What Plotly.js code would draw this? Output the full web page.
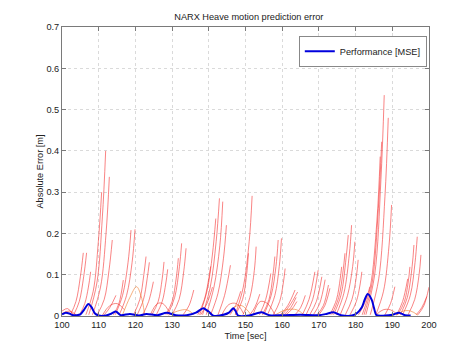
<!DOCTYPE html>
<html>
<head>
<meta charset="utf-8">
<script src="https://cdn.plot.ly/plotly-3.0.1.min.js"></script>
<style>html,body{margin:0;padding:0;background:#fff;}#chart{width:474px;height:355px;}</style>
</head>
<body>
<div id="chart"></div>
<script>
// Performance [MSE] (blue)
const perfT = [100,101,102,103,104,105,106,107.2,108,109,110,112,113.5,114.7,116,118.5,121,123,126,128.5,131,134,136.5,138.5,140,141.2,143,145.5,146.7,147.3,148,151,154.4,156.5,160,165,170,172,173.9,176,179,180.5,181.7,182.5,183.3,184.4,185,185.7,188,190,191.8,193.5,195];
const perfV = [0.004,0.008,0.006,0.002,0.002,0.004,0.015,0.029,0.022,0.006,0.001,0.001,0.006,0.011,0.002,0.005,0.001,0.005,0.002,0.008,0.002,0.002,0.008,0.019,0.01,0.001,0.001,0.008,0.019,0.012,0.001,0.001,0.009,0.002,0.002,0.003,0.002,0.005,0.009,0.002,0.001,0.008,0.021,0.04,0.053,0.039,0.02,0.002,0.001,0.003,0.008,0.002,0.001];

// Diverging prediction errors (red), read per curve
const redT = [
  [100,101.5,103],[100,102,104],
  [102.3,103.8,105,105.8],[103.2,104.7,105.9,106.7],[104.8,106.2,107.2,107.8],
  [106.5,108.5,109.9,110.8],[107.3,109.5,111,111.9],[108.3,110.5,112,112.9],
  [109.6,111.5,112.8,113.7],[111.5,113,114.7],[114,115.5,116.7],
  [114.5,116.5,118,118.8],[115.6,117.6,119.1,119.9],
  [119.5,121.2,122.3,122.9],[120.5,122.2,123.2,123.8],[122,123.6,124.9],
  [124.5,126.2,127.3,127.8],[125.7,127.3,128.3,128.8],
  [128.3,130,131.1,131.7],[128.8,130.7,132,132.6],[130,131.9,133.2,133.8],[133,134.6,135.9],
  [137,138.8,140.5],[137.8,139.5,141],
  [137.5,139.5,141,141.9],[138.3,140.4,142,142.9],[139.3,141.4,143,143.8],
  [140.5,142.5,144,144.8],[142.5,144.3,145.9],[145.8,147.3,148.7],
  [147.3,149.2,150.3,150.8],[147.2,149.4,151,151.8],[149.3,151.2,152.4,152.9],[151.2,152.6,153.9],
  [153.8,155.5,156.9],[154.6,156.4,157.5,158],[155,157,158.3,158.9],[156,158,159.2,159.8],
  [157.6,159.3,160.3,160.8],
  [159.5,161.5,163.5],[160,162,164.2],[160.5,162.3,163.8],[161,162.5,164],
  [163.5,165,166.3],
  [165.5,167.3,168.9],[166.5,168.3,169.8],[167.5,169.3,170.8],[168.5,170.2,171.7],
  [169.5,171.2,172.6],[170,171.6,173],
  [173,174.8,175.8,176.2],[173.5,175.4,176.6,177.1],[174,176,177.4,178],[174.7,176.8,178.3,178.9],
  [175.8,177.8,179.2,179.8],[177.2,179,180.2,180.7],[178.5,180.2,181.2,181.7],[180.8,182.4,183.9],
  [181.8,184,185.8,186.7],[182.3,184.5,186.2,187.1],[182.8,185.2,186.9,187.8],
  [184,186.3,188,188.9],[185.5,187.6,189.1,189.8],[188,189.5,190.7],
  [191.2,192.8,194.2],[191.5,193.3,194.3,194.8],[192.2,194.1,195.4,195.9],
  [192.8,194.9,196.2,196.8],[194.3,196.1,197.3,197.8],[196.5,198,199.4],[197,198.6,200]
];
const redV = [
  [0.012,0.018,0.004],[0.006,0.012,0.002],
  [0.003,0.035,0.095,0.153],[0.003,0.035,0.095,0.153],[0.003,0.03,0.07,0.107],
  [0.003,0.06,0.18,0.30],[0.003,0.08,0.24,0.40],[0.003,0.07,0.2,0.337],
  [0.003,0.04,0.11,0.184],[0.003,0.02,0.05],[0.003,0.03,0.087],
  [0.003,0.05,0.13,0.208],[0.003,0.05,0.13,0.21],
  [0.003,0.04,0.1,0.144],[0.003,0.04,0.09,0.13],[0.003,0.035,0.083],
  [0.003,0.035,0.09,0.131],[0.003,0.035,0.08,0.113],
  [0.003,0.035,0.09,0.14],[0.003,0.045,0.12,0.176],[0.003,0.04,0.11,0.164],[0.003,0.025,0.063],
  [0.003,0.04,0.12],[0.003,0.03,0.07],
  [0.003,0.06,0.15,0.236],[0.003,0.07,0.18,0.285],[0.003,0.07,0.17,0.277],
  [0.003,0.055,0.14,0.22],[0.003,0.05,0.123],[0.003,0.025,0.06],
  [0.003,0.04,0.1,0.152],[0.003,0.07,0.18,0.291],[0.003,0.045,0.11,0.168],[0.003,0.022,0.053],
  [0.003,0.04,0.103],[0.003,0.04,0.1,0.144],[0.003,0.05,0.12,0.184],[0.003,0.05,0.12,0.188],
  [0.003,0.035,0.08,0.115],
  [0.003,0.025,0.063],[0.003,0.025,0.058],[0.003,0.02,0.045],[0.003,0.015,0.035],
  [0.003,0.02,0.05],
  [0.003,0.04,0.107],[0.003,0.04,0.111],[0.003,0.035,0.095],[0.003,0.03,0.088],
  [0.003,0.025,0.075],[0.003,0.025,0.067],
  [0.003,0.04,0.09,0.119],[0.003,0.045,0.11,0.152],[0.003,0.05,0.14,0.196],[0.003,0.055,0.15,0.22],
  [0.003,0.05,0.12,0.18],[0.003,0.04,0.095,0.136],[0.003,0.035,0.075,0.107],[0.003,0.03,0.071],
  [0.003,0.07,0.23,0.386],[0.003,0.08,0.26,0.422],[0.003,0.1,0.33,0.535],
  [0.003,0.09,0.29,0.48],[0.003,0.06,0.17,0.269],[0.003,0.03,0.071],
  [0.003,0.035,0.09],[0.003,0.035,0.08,0.119],[0.003,0.045,0.12,0.172],
  [0.003,0.05,0.13,0.192],[0.003,0.04,0.1,0.148],[0.003,0.02,0.047],[0.003,0.025,0.07]
];

// Arching (non-diverging) error curves near the bottom
const humpT = [
  [111,113,115,117],[116.5,118.5,120.3,121.5,122.5],[124,126,127.5,129.5],[129,131.5,134,136],
  [143.5,145.5,147.5,149.5],[145,147,149,151.5],[152,154,156,158],[158,161,164,166],
  [185.5,187.5,189.5,191.5],[191,193,195,197]
];
const humpV = [
  [0.002,0.025,0.03,0.015],[0.003,0.045,0.071,0.05,0.005],[0.002,0.03,0.03,0.005],[0.002,0.012,0.015,0.003],
  [0.002,0.028,0.03,0.005],[0.002,0.022,0.025,0.003],[0.002,0.035,0.03,0.003],[0.002,0.015,0.015,0.002],
  [0.002,0.015,0.015,0.003],[0.002,0.012,0.012,0.002]
];

const traces = [];
redT.forEach((t, i) => traces.push({
  x: t, y: redV[i], type: 'scatter', mode: 'lines', showlegend: false, hoverinfo: 'skip',
  line: {color: 'rgba(245,50,50,0.6)', width: 1, shape: 'spline'}
}));
humpT.forEach((t, i) => traces.push({
  x: t, y: humpV[i], type: 'scatter', mode: 'lines', showlegend: false, hoverinfo: 'skip',
  line: {color: i % 2 ? 'rgba(240,120,40,0.6)' : 'rgba(240,60,50,0.6)', width: 1, shape: 'spline'}
}));
traces.push({
  x: perfT, y: perfV, type: 'scatter', mode: 'lines', name: 'Performance [MSE]',
  line: {color: '#0000dd', width: 2, shape: 'spline', smoothing: 0.8}
});

const font = {family: 'Arial, "Liberation Sans", sans-serif', size: 9.2, color: '#222'};
const axisBase = {
  showline: true, mirror: 'ticks', linecolor: '#7a7a7a', linewidth: 1,
  ticks: 'inside', ticklen: 4, tickcolor: '#7a7a7a',
  showgrid: true, gridcolor: '#dadada', griddash: 'dot', gridwidth: 1,
  zeroline: false, tickfont: font
};
const layout = {
  width: 474, height: 355,
  margin: {l: 62, r: 45, t: 27, b: 39},
  paper_bgcolor: '#fff', plot_bgcolor: '#fff',
  font: font,
  title: {text: 'NARX Heave motion prediction error', font: font, x: 0.525, xanchor: 'center', y: 0.952, yanchor: 'middle'},
  xaxis: Object.assign({}, axisBase, {range: [100, 200], dtick: 10, tick0: 100,
    title: {text: 'Time [sec]', font: font, standoff: 3}}),
  yaxis: Object.assign({}, axisBase, {range: [0, 0.7], dtick: 0.1, tick0: 0,
    title: {text: 'Absolute Error [m]', font: font, standoff: 1}}),
  showlegend: true,
  legend: {x: 0.994, xanchor: 'right', y: 0.97, yanchor: 'top', bgcolor: '#fff',
    bordercolor: '#888', borderwidth: 1, font: font, tracegroupgap: 0,
    itemwidth: 30}
};
Plotly.newPlot('chart', traces, layout, {displayModeBar: false, staticPlot: true});
</script>
</body>
</html>
